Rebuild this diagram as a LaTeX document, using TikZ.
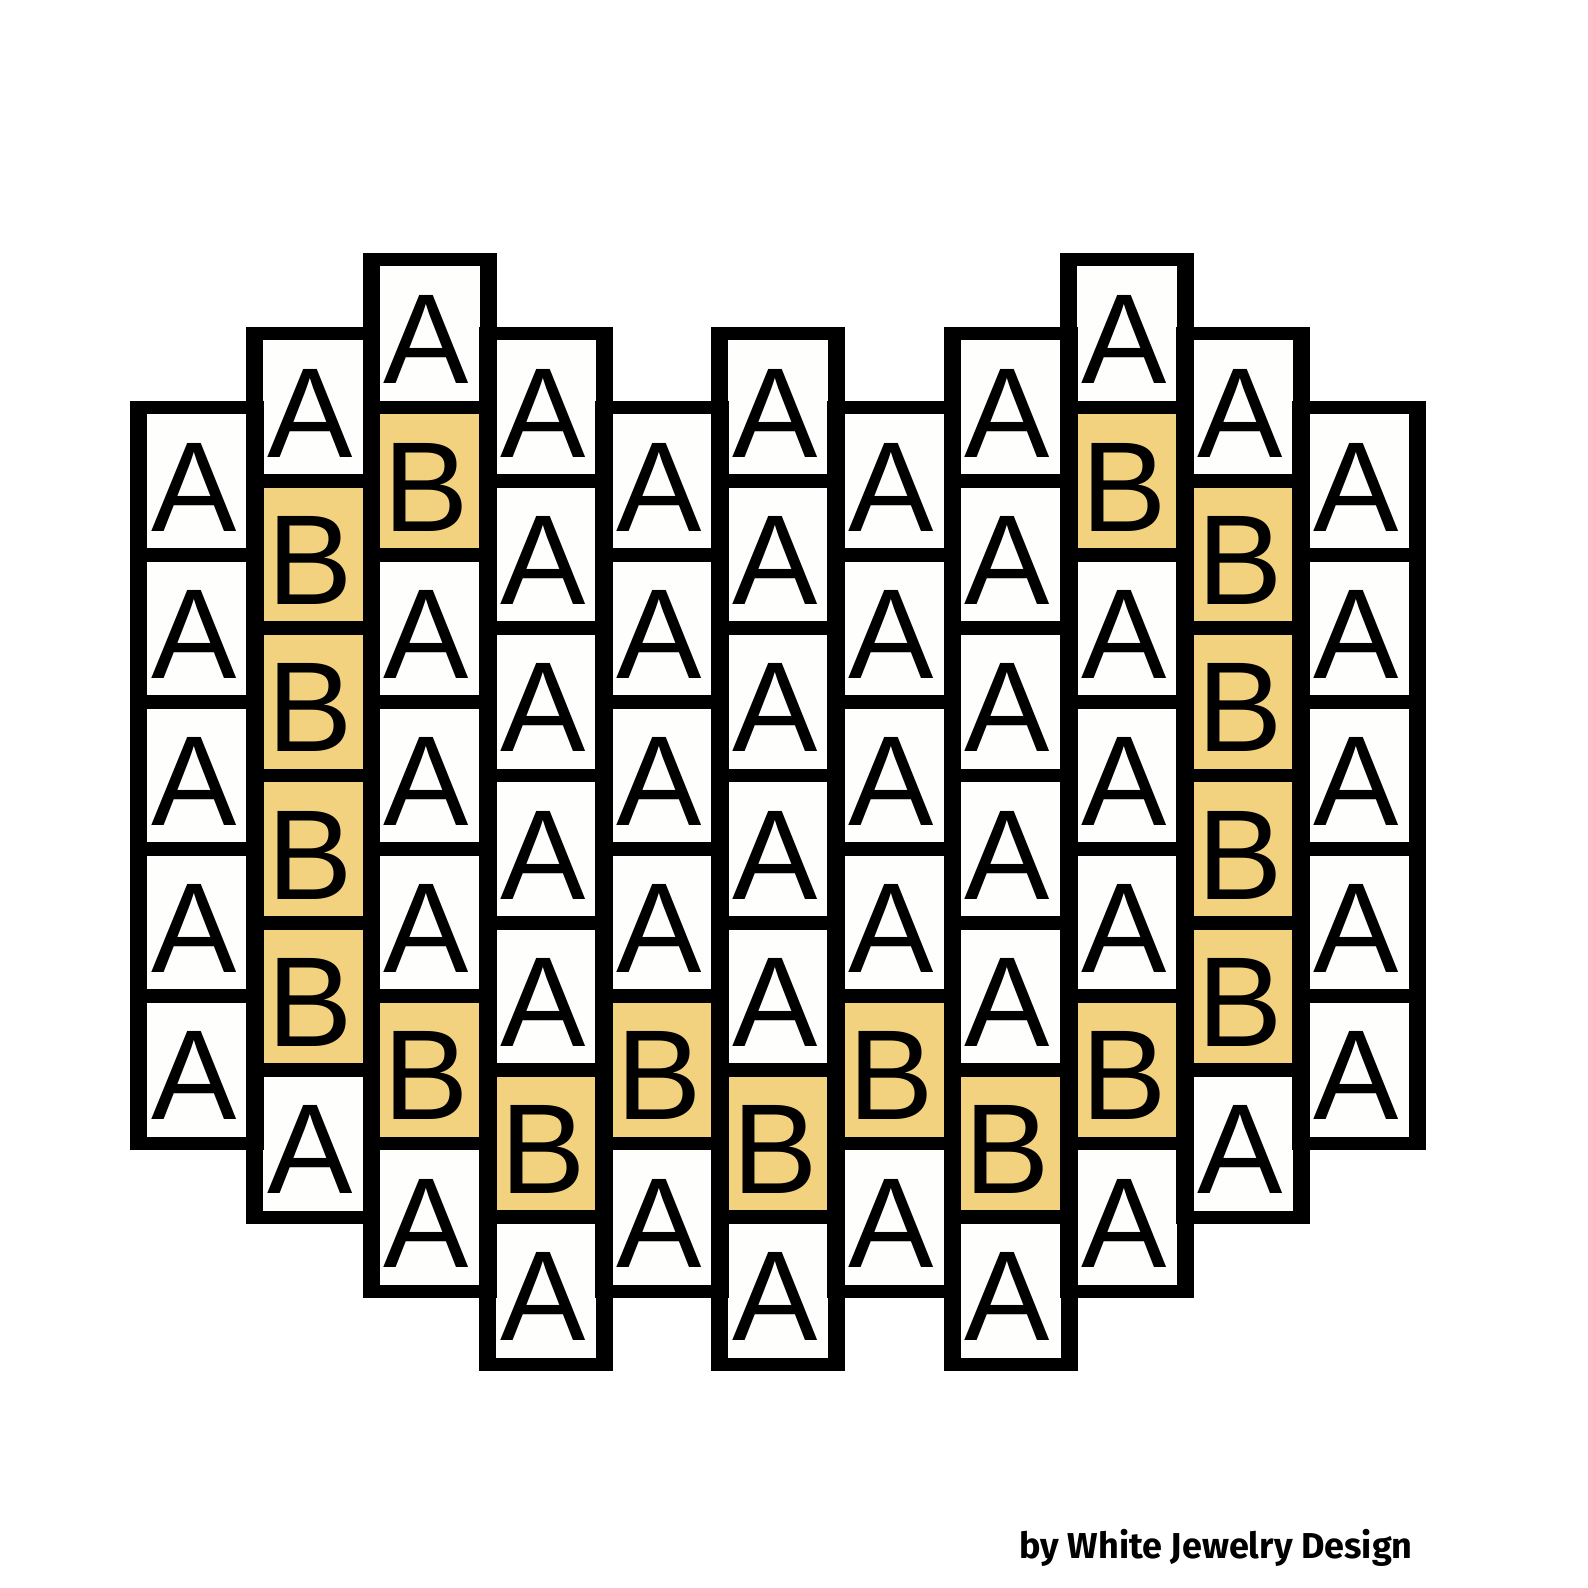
\documentclass[tikz,border=0pt]{standalone}
\usepackage{fontspec}
\setmainfont{Liberation Sans}
\newfontfamily\sigfont{Fira Sans}
\definecolor{colB}{RGB}{242,210,126}
\definecolor{colA}{RGB}{254,254,252}
\newcommand{\bead}[1]{\raisebox{-3pt}[\height][0pt]{\kern-1.5pt #1\kern1.5pt}}
\begin{document}
\begin{tikzpicture}[x=0.5pt,y=-0.5pt,
  cell/.style={rectangle, inner sep=0pt, minimum width=58.1pt, minimum height=73.6pt, font=\fontsize{64}{64}\selectfont},
  cellA/.style={cell, fill=colA},
  cellB/.style={cell, fill=colB},
  edge/.style={line width=6.5pt, black},
  vedge/.style={line width=8.5pt, black, shorten <=-3.25pt, shorten >=-3.25pt}]
\fill[white] (0,0) rectangle (1588,1588);
\useasboundingbox (0,0) rectangle (1588,1588);
\foreach \k/\off/\seq in {
 1/2/{A,A,A,A,A},
 2/1/{A,B,B,B,B,A},
 3/0/{A,B,A,A,A,B,A},
 4/1/{A,A,A,A,A,B,A},
 5/2/{A,A,A,A,B,A},
 6/1/{A,A,A,A,A,B,A},
 7/2/{A,A,A,A,B,A},
 8/1/{A,A,A,A,A,B,A},
 9/0/{A,B,A,A,A,B,A},
 10/1/{A,B,B,B,B,A},
 11/2/{A,A,A,A,A}}{
  \foreach \t [count=\r] in \seq {
    \node[cell\t] (c\k-\r) at ({139+116.2*(\k-1)+58.1}, {260.3+73.6*\off+147.2*(\r-1)+73.6}) {\bead{\t}};
  }
}
\foreach \k/\n in {1/5,2/6,3/7,4/7,5/6,6/7,7/6,8/7,9/7,10/6,11/5}{
  \foreach \r in {1,...,\n}{
    \draw[edge] (c\k-\r.north west) rectangle (c\k-\r.south east);
    \draw[vedge] (c\k-\r.north west) -- (c\k-\r.south west);
    \draw[vedge] (c\k-\r.north east) -- (c\k-\r.south east);
  }
}
\node[anchor=base west, inner sep=0pt, font=\sigfont\bfseries\fontsize{18}{20}\selectfont] (sig) at (1019,1558.3) {by White Jewelry Design};
\end{tikzpicture}
\end{document}
